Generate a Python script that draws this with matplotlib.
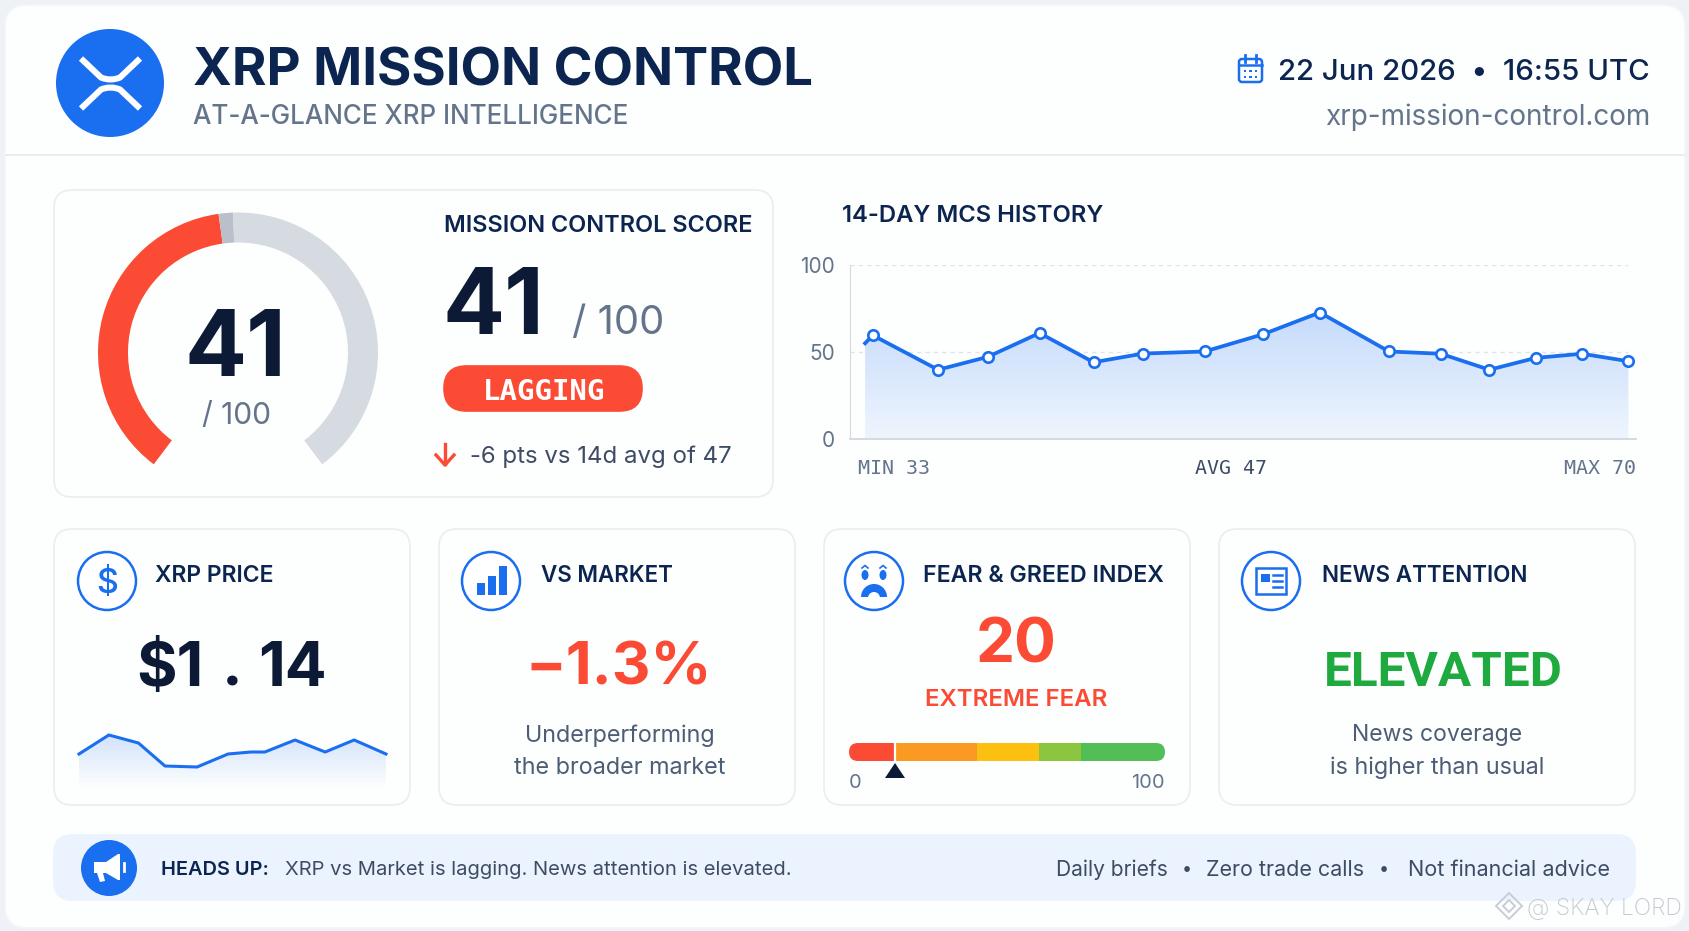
"""
XRP Mission Control dashboard card, laid out on one full-figure pixel axes
with real axes on top of it for the history chart, sparkline and the gauge bar.
"""

import matplotlib
matplotlib.use('Agg')
import matplotlib.pyplot as plt
import numpy as np
from matplotlib.colors import LinearSegmentedColormap
from matplotlib.patches import Circle, Ellipse, FancyBboxPatch, PathPatch, Polygon, Rectangle, Wedge
from matplotlib.path import Path

W, H = 1690, 931

NAVY = '#0c2550'
INK = '#0c1a36'
GREY = '#64748b'
BODY = '#4d5d75'
BLUE = '#1a6ef0'
RED = '#fb4b35'
GREEN = '#1faa3f'
EDGE = '#e9edf3'

history_days = [-0.0, 0.14, 1.34, 2.25, 3.2, 4.19, 5.1, 6.23, 7.3, 8.34, 9.61,
                10.56, 11.45, 12.3, 13.15, 14.0]
history_scores = [55, 59.6, 39.8, 47.2, 60.9, 44.1, 49.1, 50.3, 60.2, 72.7,
                  50.3, 49, 39.8, 46.6, 49, 44.7]
history_ticks = [0, 50, 100]

price_steps = [0, 1.07, 2.13, 3.08, 4.23, 5.34, 6.16, 6.66, 7.74, 8.82, 9.86, 11]
price_values = [33, 52, 44, 21, 20, 33, 35, 35, 47, 35, 47, 33]

gauge_angles = [233, 98, 92, -53]
gauge_colors = [RED, '#b9c0ca', '#d6dae1']

fear_edges = [0, 14.5, 40.5, 60, 73.3, 100]
fear_colors = [RED, '#fb9a23', '#fdc010', '#8cc63f', '#52bf56']
fear_marker = 14.5

plt.rcParams['font.family'] = ['Inter', 'DejaVu Sans']

fig = plt.figure(figsize=(W / 100, H / 100), dpi=100, facecolor='#eef2f7')
ax = fig.add_axes([0, 0, 1, 1])
ax.set_xlim(0, W)
ax.set_ylim(H, 0)
ax.axis('off')


def label(x, y, s, px, color=INK, weight='normal', ha='left', family=None):
    kw = {'family': family} if family else {}
    return ax.text(x, y, s, fontsize=px * 0.72, color=color, weight=weight,
                   ha=ha, va='center_baseline', **kw)


def card(x0, y0, x1, y1, rad=18, face='#fdfefe', edge=EDGE, z=1):
    ax.add_patch(FancyBboxPatch((x0, y0), x1 - x0, y1 - y0,
                                boxstyle=f'round,pad=0,rounding_size={rad}',
                                fc=face, ec=edge, lw=1.2, zorder=z))


def px_axes(x0, y0, x1, y1):
    return fig.add_axes([x0 / W, 1 - y1 / H, (x1 - x0) / W, (y1 - y0) / H],
                        facecolor='none')


def gradient_fill(target, xs, ys, bottom, top_color, bottom_color):
    poly = target.fill_between(xs, ys, bottom, color='none', lw=0)
    cmap = LinearSegmentedColormap.from_list('fade', [bottom_color, top_color])
    grad = np.linspace(1, 0, 256).reshape(-1, 1)
    xlim, ylim = target.get_xlim(), target.get_ylim()
    im = target.imshow(grad, cmap=cmap, aspect='auto', zorder=1,
                       extent=[xs[0], xs[-1], bottom, max(ys)])
    im.set_clip_path(poly.get_paths()[0], transform=target.transData)
    target.set_xlim(xlim)
    target.set_ylim(ylim)


# page and header
card(5, 5, 1685, 928, rad=22, face='#fdfefe', edge='#f3f5f9')
ax.plot([6, 1684], [155, 155], color='#e9edf3', lw=1.4, zorder=2)

ax.add_patch(Circle((110, 83), 54, fc=BLUE, ec='none', zorder=2))
for sign in (1, -1):
    cy = 83.5
    verts = [(81, cy - sign * 25), (101, cy - sign * 6), (110.5, cy - sign * 2),
             (120, cy - sign * 6), (140, cy - sign * 25)]
    codes = [Path.MOVETO, Path.LINETO, Path.CURVE3, Path.CURVE3, Path.LINETO]
    ax.add_patch(PathPatch(Path(verts, codes), fc='none', ec='white', lw=4.4,
                           capstyle='butt', zorder=3))

label(193, 67, 'XRP MISSION CONTROL', 52.6, NAVY, 'bold')
label(193, 114, 'AT-A-GLANCE XRP INTELLIGENCE', 26, GREY, 'medium')
label(1650, 69, '22 Jun 2026  \u2022  16:55 UTC', 29.5, NAVY, 'medium', ha='right')
label(1650, 114, 'xrp-mission-control.com', 27.9, GREY, 'normal', ha='right')

# calendar icon
ax.add_patch(FancyBboxPatch((1239, 59), 23, 23, boxstyle='round,pad=0,rounding_size=3',
                            fc='white', ec=BLUE, lw=1.8, zorder=3))
ax.plot([1239, 1262], [65, 65], color=BLUE, lw=1.8, zorder=4)
for tx in (1245, 1256):
    ax.plot([tx, tx], [55, 62], color=BLUE, lw=2, zorder=4)
for dx in (1245, 1250.5, 1256):
    for dy in (71, 77):
        ax.add_patch(Rectangle((dx - 1, dy - 1), 2.4, 2.4, fc=BLUE, ec='none', zorder=4))

# score card
card(54, 190, 773, 497)
gx, gy, gr, gw = 238, 352.5, 140, 30
for a0, a1, col in zip(gauge_angles[:-1], gauge_angles[1:], gauge_colors):
    ax.add_patch(Wedge((gx, gy), gr, -a0, -a1, width=gw, fc=col, ec='none', zorder=3))
label(235, 343, '41', 92, INK, 'bold', ha='center')
label(237, 413, '/ 100', 30, GREY, ha='center')

label(444, 224, 'MISSION CONTROL SCORE', 23.5, NAVY, 'semibold')
label(443, 301, '41', 92, INK, 'bold')
label(572, 320, '/ 100', 40, GREY)
card(444, 366, 642, 411, rad=22.5, face=RED, edge=RED, z=3)
label(544, 389, 'LAGGING', 29, 'white', 'bold', ha='center', family='DejaVu Sans Mono').set_zorder(4)
ax.plot([445, 445], [444, 464], color=RED, lw=2.4, zorder=3)
ax.plot([436, 445, 454], [455, 465, 455], color=RED, lw=2.4, zorder=3)
label(470, 454, '-6 pts vs 14d avg of 47', 24, '#3e4c63')

# history chart
label(842, 213, '14-DAY MCS HISTORY', 23.8, NAVY, 'semibold')
hist = px_axes(850, 265, 1636, 439)
hist.set_xlim(-0.277, 14.14)
hist.set_ylim(0, 100)
gradient_fill(hist, history_days, history_scores, 0, '#c5dbfb', '#eff5fe')
hist.hlines([50, 100], -0.277, 14.0, color='#dfe3ea', ls=(0, (3, 3)), lw=1, zorder=0)
hist.plot(history_days, history_scores, color=BLUE, lw=2.7, zorder=3)
hist.plot(history_days[1:], history_scores[1:], ls='none', marker='o', ms=7.5,
          mfc='white', mec=BLUE, mew=1.9, zorder=4)
hist.set_yticks(history_ticks)
hist.set_xticks([])
hist.tick_params(axis='y', length=0, pad=11, labelsize=15, labelcolor=GREY)
for side in ('top', 'right'):
    hist.spines[side].set_visible(False)
hist.spines['left'].set_color('#d5d9e0')
hist.spines['bottom'].set_color('#d5d9e0')
hist.spines['bottom'].set_linewidth(1.4)

label(858, 467, 'MIN 33', 20, GREY, family='DejaVu Sans Mono')
label(1231, 467, 'AVG 47', 20, '#3e4c63', ha='center', family='DejaVu Sans Mono')
label(1636, 467, 'MAX 70', 20, GREY, ha='right', family='DejaVu Sans Mono')

# bottom cards
for x0, x1 in ((54, 410), (439, 795), (824, 1190), (1219, 1635)):
    card(x0, 529, x1, 805)
for cx in (107, 491, 874, 1271):
    ax.add_patch(Circle((cx, 581), 29, fc='white', ec=BLUE, lw=1.8, zorder=3))

label(155, 573, 'XRP PRICE', 23, NAVY, 'semibold')
label(541, 573, 'VS MARKET', 22.4, NAVY, 'semibold')
label(923, 573, 'FEAR & GREED INDEX', 23.1, NAVY, 'semibold')
label(1322, 573, 'NEWS ATTENTION', 22.5, NAVY, 'semibold')

# icons
label(107, 581, '$', 34, BLUE, 'medium', ha='center').set_zorder(4)
for bx, bt in ((477, 583), (488, 576), (499, 566)):
    ax.add_patch(Rectangle((bx, bt), 8, 595 - bt, fc=BLUE, ec='none', zorder=4))
for ex in (865, 883):
    ax.add_patch(Ellipse((ex, 575), 7, 10, fc=BLUE, ec='none', zorder=4))
    ax.plot([ex - 3, ex, ex + 3], [568, 565.5, 568], color=BLUE, lw=1.2, zorder=4)
ax.add_patch(Wedge((874, 597), 13, 180, 360, fc=BLUE, ec='none', zorder=4))
ax.add_patch(Wedge((874, 598), 6, 180, 360, fc='white', ec='none', zorder=5))
ax.add_patch(Rectangle((1256, 568), 30, 26, fc='white', ec=BLUE, lw=1.8, zorder=4))
ax.add_patch(Rectangle((1261, 574), 9, 8, fc=BLUE, ec='none', zorder=5))
for ly, lx in ((575, 1273), (581, 1273), (587, 1273)):
    ax.plot([lx, 1282], [ly, ly], color=BLUE, lw=1.8, zorder=5)

# price card
label(204, 663, '$1', 62, INK, 'bold', ha='right')
label(232, 663, '.', 62, INK, 'bold', ha='center')
label(258, 663, '14', 62, INK, 'bold')
spark = px_axes(79, 730, 386, 787)
spark.set_xlim(0, 11)
spark.set_ylim(0, 57)
spark.axis('off')
gradient_fill(spark, price_steps, price_values, 0, '#d3e3fb', '#fdfefe')
spark.plot(price_steps, price_values, color=BLUE, lw=2.2, zorder=3, clip_on=False)

# market card
label(619, 663, '\u22121.3%', 60, RED, 'bold', ha='center')
label(620, 733, 'Underperforming', 23.4, BODY, ha='center')
label(620, 765, 'the broader market', 23.4, BODY, ha='center')

# fear and greed card
label(1016, 640, '20', 62, RED, 'bold', ha='center')
label(1016, 697, 'EXTREME FEAR', 24, RED, 'semibold', ha='center')
bar = px_axes(849, 743, 1165, 761)
bar.set_xlim(0, 100)
bar.set_ylim(0, 1)
bar.axis('off')
clip = FancyBboxPatch((0, 0), 100, 1, boxstyle='round,pad=0,rounding_size=2.85',
                      mutation_aspect=0.5 / 2.85, transform=bar.transData,
                      fc='none', ec='none')
bar.add_patch(clip)
segments = bar.barh([0.5] * len(fear_colors), np.diff(fear_edges), height=1,
                    left=fear_edges[:-1], color=fear_colors)
for seg in segments:
    seg.set_clip_path(clip)
bar.axvline(fear_marker, color='white', lw=1.6)
ax.add_patch(Polygon([(895, 763), (885, 778), (905, 778)], fc=INK, ec='none', zorder=4))
label(849, 781, '0', 20, GREY)
label(1165, 781, '100', 20, GREY, ha='right')

# news card
label(1443, 668, 'ELEVATED', 49.5, GREEN, 'bold', ha='center', family='Roboto')
label(1437, 733, 'News coverage', 23, BODY, ha='center')
label(1437, 765, 'is higher than usual', 23.4, BODY, ha='center')

# banner
card(54, 835, 1635, 900, rad=18, face='#ebf3fe', edge='#ebf3fe')
ax.add_patch(Circle((109, 868), 28, fc=BLUE, ec='none', zorder=3))
ax.add_patch(Polygon([(94, 862), (106, 862), (118, 854), (120, 854), (120, 880), (118, 880),
                      (106, 873), (103, 873), (105, 881), (100, 882), (97, 873), (94, 873)],
                     fc='white', ec='none', zorder=4))
ax.plot([124, 124], [863, 871], color='white', lw=2, zorder=4)
label(161, 868, 'HEADS UP:', 20, NAVY, 'semibold').set_zorder(4)
label(285, 868, 'XRP vs Market is lagging. News attention is elevated.', 20.2, '#3e4c63').set_zorder(4)
label(1056, 868, 'Daily briefs', 21, '#3e4c63').set_zorder(4)
label(1187, 868, '\u2022', 18, '#3e4c63', ha='center').set_zorder(4)
label(1206, 868, 'Zero trade calls', 21.5, '#3e4c63').set_zorder(4)
label(1384, 868, '\u2022', 18, '#3e4c63', ha='center').set_zorder(4)
label(1408, 868, 'Not financial advice', 21.6, '#3e4c63').set_zorder(4)

# watermark
for half in (13, 6):
    ax.add_patch(Polygon([(1509, 906 - half), (1509 + half, 906), (1509, 906 + half), (1509 - half, 906)],
                         fc='none', ec='#c8cdd6', lw=1.4, zorder=6))
label(1682, 906, '@ SKAY LORD', 23, '#c4c9d2', 'light', ha='right').set_zorder(6)

fig.savefig('out.png', dpi=100, facecolor=fig.get_facecolor())
